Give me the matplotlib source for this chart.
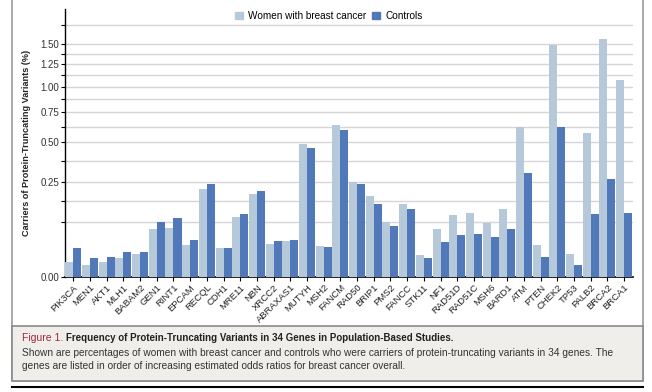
import numpy as np
import matplotlib.pyplot as plt
from matplotlib.patches import Rectangle, Patch
from matplotlib.lines import Line2D

# Genes in order of increasing estimated odds ratio
genes = ['PIK3CA', 'MEN1', 'AKT1', 'MLH1', 'BABAM2', 'GEN1', 'RINT1', 'EPCAM',
         'RECQL', 'CDH1', 'MRE11', 'NBN', 'XRCC2', 'ABRAXAS1', 'MUTYH', 'MSH2',
         'FANCM', 'RAD50', 'BRIP1', 'PMS2', 'FANCC', 'STK11', 'NF1', 'RAD51D',
         'RAD51C', 'MSH6', 'BARD1', 'ATM', 'PTEN', 'CHEK2', 'TP53', 'PALB2',
         'BRCA2', 'BRCA1']

# Carriers (%) - women with breast cancer
cases = [0.0065, 0.0042, 0.0065, 0.0103, 0.015, 0.064, 0.067, 0.029,
         0.215, 0.024, 0.100, 0.191, 0.031, 0.036, 0.490, 0.027,
         0.639, 0.252, 0.182, 0.084, 0.148, 0.014, 0.064, 0.107,
         0.114, 0.081, 0.129, 0.623, 0.029, 1.487, 0.015, 0.574,
         1.565, 1.073]

# Carriers (%) - controls
controls = [0.024, 0.0103, 0.0114, 0.0176, 0.0176, 0.084, 0.097, 0.038,
            0.240, 0.024, 0.110, 0.205, 0.036, 0.038, 0.461, 0.025,
            0.598, 0.240, 0.148, 0.073, 0.129, 0.010, 0.034, 0.049,
            0.052, 0.045, 0.064, 0.300, 0.011, 0.623, 0.004, 0.110,
            0.266, 0.114]

major_ticks = [0.0, 0.25, 0.5, 0.75, 1.0, 1.25, 1.5]
minor_ticks = [0.085, 0.16, 0.375, 0.625, 0.875, 1.125, 1.375, 1.75]

light = '#b5c9da'
dark = '#5179b9'
W, H = 652, 392

plt.rcParams['font.family'] = ['Liberation Sans', 'DejaVu Sans']

fig = plt.figure(figsize=(W / 100, H / 100), dpi=100)
ax = fig.add_axes([65 / W, 1 - 277.3 / H, (633 - 65) / W, (277.3 - 9) / H])

x = np.arange(len(genes))
bw = 0.48
ax.bar(x - bw / 2, cases, width=bw, color=light, zorder=3)
ax.bar(x + bw / 2, controls, width=bw, color=dark, zorder=3)

# square-root y axis
ax.set_yscale('function', functions=(lambda v: np.sqrt(np.clip(v, 0, None)),
                                     lambda v: np.square(v)))
ax.set_ylim(0, 1.98)
ax.set_xlim(-0.5, 33.53)

ax.set_yticks(major_ticks)
ax.set_yticklabels(['%.2f' % t for t in major_ticks], fontsize=7, color='#333333')
ax.set_yticks(minor_ticks, minor=True)
ax.tick_params(axis='y', which='both', length=3, width=0.8, pad=1)
ax.grid(axis='y', which='both', color='#d6d6d6', lw=1.0, zorder=0)

ax.set_xticks(x)
ax.set_xticklabels(genes, rotation=45, ha='right', rotation_mode='anchor',
                   fontsize=6.8, color='#222222')
ax.tick_params(axis='x', length=3, width=0.8, pad=1)

for s in ['top', 'right']:
    ax.spines[s].set_visible(False)
ax.spines['left'].set_linewidth(1.0)
ax.spines['bottom'].set_linewidth(1.2)

ax.set_ylabel('Carriers of Protein-Truncating Variants (%)', fontsize=6.6,
              fontweight='bold', color='#222222')
ax.yaxis.set_label_coords(-(65 - 31) / (633 - 65), 0.5)

handles = [Patch(color=light), Patch(color=dark)]
fig.legend(handles, ['Women with breast cancer', 'Controls'], ncol=2,
           loc='center', bbox_to_anchor=(329 / W, 1 - 16 / H), frameon=False,
           fontsize=7.2, handlelength=0.8, handleheight=0.8, handletextpad=0.5,
           columnspacing=0.6, borderaxespad=0)

# outer frame and caption box
fig.add_artist(Rectangle((12 / W, 1 - 381 / H), (643 - 12) / W, 381 / H + 0.01,
                         transform=fig.transFigure, fill=False,
                         edgecolor='#9a9a9a', lw=1.2))
fig.add_artist(Rectangle((12 / W, 1 - 381 / H), (643 - 12) / W, (381 - 326) / H,
                         transform=fig.transFigure, facecolor='#efeeea',
                         edgecolor='#8a8a8a', lw=1.2))
fig.add_artist(Line2D([12 / W, 643 / W], [1 - 387 / H] * 2,
                      transform=fig.transFigure, color='black', lw=1.5))

fig_label = fig.text(22 / W, 1 - 338 / H, 'Figure 1.', color='#a3283a',
                     fontsize=7.5, va='center')
fig.canvas.draw()
bb = fig_label.get_window_extent()
fig.text((bb.x1 + 3) / W, 1 - 338 / H,
         'Frequency of Protein-Truncating Variants in 34 Genes in Population-Based Studies.',
         color='#222222', fontsize=7.0, fontweight='bold', va='center')
fig.text(22 / W, 1 - 353 / H,
         'Shown are percentages of women with breast cancer and controls who were carriers '
         'of protein-truncating variants in 34 genes. The',
         color='#333333', fontsize=7.3, va='center')
fig.text(22 / W, 1 - 366 / H,
         'genes are listed in order of increasing estimated odds ratios for breast cancer overall.',
         color='#333333', fontsize=7.3, va='center')

fig.savefig('out.png', dpi=100)
